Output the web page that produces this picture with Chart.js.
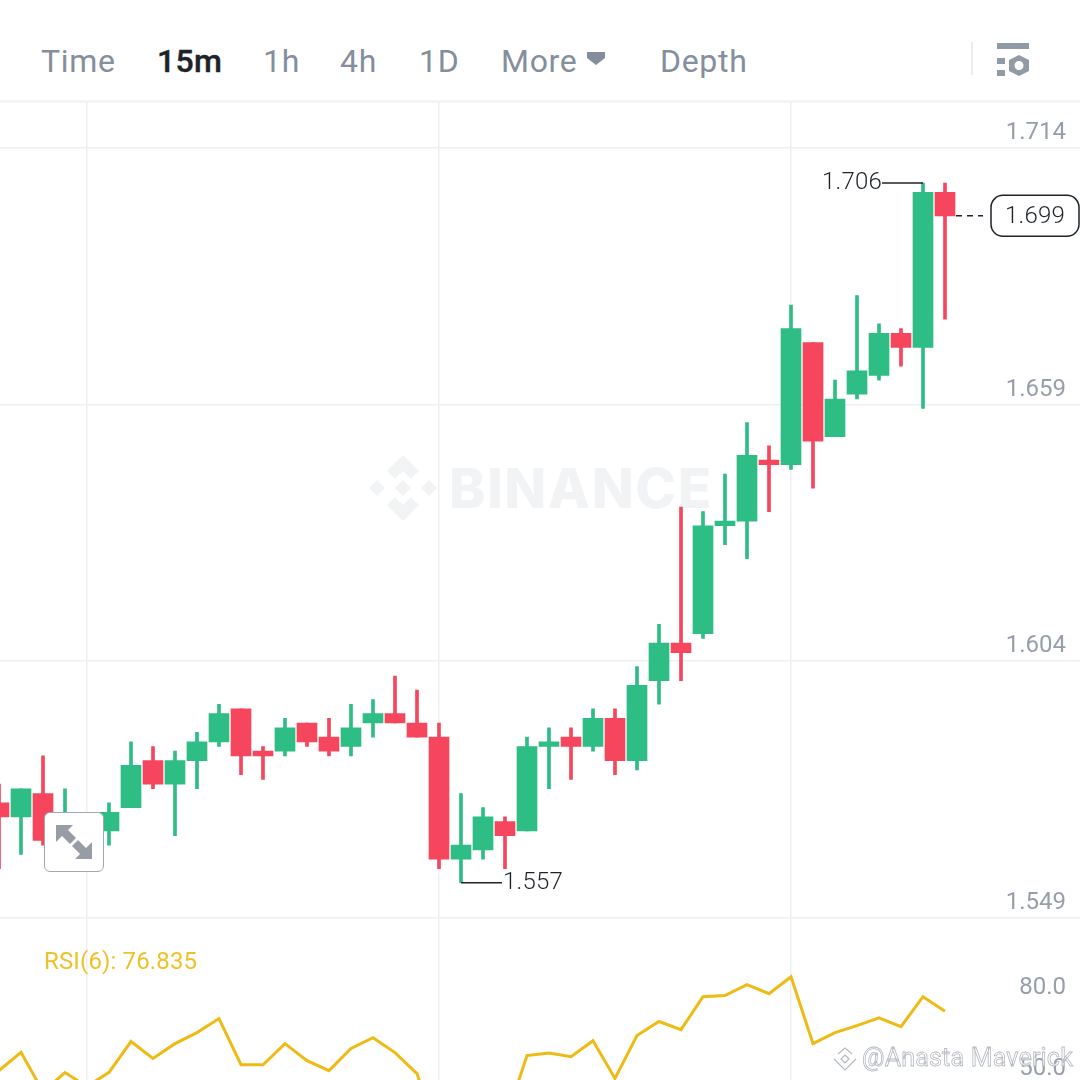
<!DOCTYPE html>
<html>
<head>
<meta charset="utf-8">
<title>15m chart</title>
<script src="https://cdn.jsdelivr.net/npm/chart.js@4"></script>
<style>
  html, body { margin: 0; padding: 0; width: 1080px; height: 1080px; overflow: hidden; background: #fff; }
  body { position: relative; font-family: Roboto, sans-serif; }
  .abs { position: absolute; white-space: nowrap; }
  .tab { top: 43px; font-size: 32px; line-height: 37px; color: #848e9c; letter-spacing: 0.7px; }
  .tab.on { color: #1e2329; font-weight: 500; letter-spacing: 0.3px; -webkit-text-stroke: 0.4px #1e2329; }
  #header-line { left: 0; top: 100px; width: 1080px; height: 3px; background: #f5f5f5; }
  #mark-text { left: 449px; top: 457px; font: 800 55px/62px Inter, sans-serif; color: #f2f3f4; letter-spacing: 1.5px; }
  #chart { position: absolute; left: 0; top: 0; }
  #rsi-label { left: 44px; top: 947px; font-size: 24px; line-height: 29px; color: #efc128; letter-spacing: 0.15px; }
  #expand { left: 44px; top: 812px; width: 58px; height: 58px; background: #fff; border: 1.5px solid #a3a8b0; border-radius: 6px; }
  #credit { left: 862px; top: 1043px; font-size: 25px; line-height: 30px; color: rgba(255,255,255,0.7); -webkit-text-stroke: 0.8px #b4b8bf; letter-spacing: 0.2px; }
</style>
</head>
<body>
<div class="abs" id="header-line"></div>
<span class="abs tab" style="left:41px">Time</span>
<span class="abs tab on" style="left:157px">15m</span>
<span class="abs tab" style="left:263px">1h</span>
<span class="abs tab" style="left:340px">4h</span>
<span class="abs tab" style="left:419px">1D</span>
<span class="abs tab" style="left:501px">More</span>
<span class="abs tab" style="left:660px">Depth</span>
<svg class="abs" style="left:586px;top:51px" width="20" height="15"><polygon points="1,1 19,1 19,7 10,14 1,7" fill="#848e9c"/></svg>
<div class="abs" style="left:971px;top:42px;width:2px;height:33px;background:#eaecef"></div>
<svg class="abs" style="left:996px;top:43px" width="36" height="34">
  <rect x="1" y="0" width="32" height="6" fill="#929aa5"/>
  <rect x="1" y="15" width="8" height="6" fill="#929aa5"/>
  <rect x="1" y="27" width="8" height="6" fill="#929aa5"/>
  <path fill-rule="evenodd" fill="#929aa5" d="M23 12 L33 17 V28 L23 33 L13 28 V17 Z M23 18 a4.5 4.5 0 1 0 0.01 0 Z"/>
</svg>
<svg class="abs" style="left:369px;top:454px" width="68" height="68">
  <g fill="#f2f3f4">
    <polygon points="34,1 50,17 42,25 34,17 26,25 18,17"/>
    <polygon points="34,67 50,51 42,43 34,51 26,43 18,51"/>
    <polygon points="34,26 42,34 34,42 26,34"/>
    <polygon points="8,26 16,34 8,42 0,34"/>
    <polygon points="60,26 68,34 60,42 52,34"/>
  </g>
</svg>
<div class="abs" id="mark-text">BINANCE</div>
<canvas id="chart" width="1080" height="1090"></canvas>
<div class="abs" id="rsi-label">RSI(6): 76.835</div>
<div class="abs" id="expand">
  <svg width="58" height="58">
    <g fill="#979ca5">
      <polygon points="11,12 28,12 23,17 31,25 25,31 17,23 11,29"/>
      <polygon points="47,46 30,46 35,41 27,33 33,27 41,35 47,29"/>
    </g>
  </svg>
</div>
<svg class="abs" style="left:831px;top:1046px" width="28" height="26">
  <g fill="none" stroke="#b4b8bf" stroke-width="1.2">
    <polyline points="7,8 14,2 21,8"/>
    <polyline points="3,13 14,24 25,13"/>
    <polygon points="14,9 18,13 14,17 10,13"/>
  </g>
</svg>
<div class="abs" id="credit">@Anasta Maverick</div>

<script>
'use strict';

// 15m candles, oldest first. Two under the expand button are guessed.
const opens = [1.574, 1.571, 1.576, 1.566, 1.569, 1.568, 1.573, 1.583, 1.578, 1.583, 1.587,
  1.594, 1.585, 1.585, 1.591, 1.588, 1.586, 1.591, 1.593, 1.591, 1.588, 1.562, 1.564, 1.570,
  1.568, 1.586, 1.588, 1.586, 1.592, 1.583, 1.600, 1.608, 1.610, 1.633, 1.634, 1.647, 1.646,
  1.672, 1.652, 1.661, 1.665, 1.674, 1.671, 1.704];
const closes = [1.571, 1.577, 1.566, 1.571, 1.571, 1.572, 1.582, 1.578, 1.583, 1.587, 1.593,
  1.584, 1.584, 1.590, 1.587, 1.585, 1.590, 1.593, 1.591, 1.588, 1.562, 1.565, 1.571, 1.567,
  1.586, 1.587, 1.586, 1.592, 1.583, 1.599, 1.608, 1.606, 1.633, 1.634, 1.648, 1.646, 1.675,
  1.651, 1.660, 1.666, 1.674, 1.671, 1.704, 1.699];
const highs = [1.578, 1.577, 1.584, 1.577, 1.571, 1.574, 1.587, 1.586, 1.585, 1.589, 1.595,
  1.594, 1.586, 1.592, 1.591, 1.592, 1.595, 1.596, 1.601, 1.598, 1.591, 1.576, 1.573, 1.571,
  1.588, 1.590, 1.590, 1.594, 1.594, 1.603, 1.612, 1.637, 1.636, 1.644, 1.655, 1.650, 1.680,
  1.672, 1.664, 1.682, 1.676, 1.675, 1.706, 1.706];
const lows = [1.560, 1.563, 1.565, 1.564, 1.566, 1.565, 1.573, 1.577, 1.567, 1.577, 1.586,
  1.580, 1.579, 1.584, 1.586, 1.584, 1.584, 1.588, 1.591, 1.588, 1.560, 1.557, 1.562, 1.560,
  1.568, 1.577, 1.579, 1.585, 1.580, 1.581, 1.595, 1.600, 1.609, 1.629, 1.626, 1.636, 1.645,
  1.641, 1.652, 1.660, 1.664, 1.667, 1.658, 1.677];

// RSI(6); values below about 52 run off the bottom of the picture, so those are estimates.
const rsi = [54.8, 61.6, 47, 54.1, 48.9, 54.2, 65.6, 59.3, 64.8, 68.9, 74.1, 57.0, 57.0, 64.8,
  58.5, 54.8, 63.0, 67.0, 61.5, 53.7, 30, 31, 36, 35.9, 60.4, 61.3, 60.0, 65.9, 51.9, 67.8,
  73.0, 70.0, 82.2, 82.6, 86.7, 83.3, 89.6, 64.8, 68.9, 71.5, 74.4, 71.1, 82.2, 76.835];

const priceTicks = [1.71345, 1.65875, 1.60425, 1.54955];
const priceTickLabels = ['1.714', '1.659', '1.604', '1.549'];
const rsiTicks = [80, 50];
const rsiTickLabels = ['80.0', '50.0'];
const timeTicks = [4, 20, 36];

const GREEN = '#2ebd85';
const RED = '#f6465d';
const GRID = '#eef0f2';
const AXIS_TEXT = '#969eaa';

const indexes = opens.map((_, i) => i);
const candleColors = indexes.map(i => (closes[i] >= opens[i] ? GREEN : RED));

// high / low / last price callouts, placed from the scales
const calloutPlugin = {
  id: 'callouts',
  afterDatasetsDraw(chart) {
    const { ctx, scales: { x, y } } = chart;
    const hiIdx = highs.indexOf(Math.max(...highs));
    const loIdx = lows.indexOf(Math.min(...lows));
    const lastIdx = closes.length - 1;
    const last = closes[lastIdx];

    ctx.save();
    ctx.font = '300 24px Roboto';
    ctx.letterSpacing = '0.2px';
    ctx.textBaseline = 'middle';
    ctx.strokeStyle = '#1e2329';
    ctx.fillStyle = '#1e2329';
    ctx.lineWidth = 1.5;

    const hiX = x.getPixelForValue(hiIdx);
    const hiY = y.getPixelForValue(highs[hiIdx]);
    ctx.beginPath();
    ctx.moveTo(hiX, hiY);
    ctx.lineTo(hiX - 41, hiY);
    ctx.stroke();
    ctx.textAlign = 'right';
    ctx.fillText(highs[hiIdx].toFixed(3), hiX - 41, hiY);

    const loX = x.getPixelForValue(loIdx);
    const loY = y.getPixelForValue(lows[loIdx]);
    ctx.beginPath();
    ctx.moveTo(loX, loY);
    ctx.lineTo(loX + 41, loY);
    ctx.stroke();
    ctx.textAlign = 'left';
    ctx.fillText(lows[loIdx].toFixed(3), loX + 42, loY);

    const lastX = x.getPixelForValue(lastIdx);
    const lastY = y.getPixelForValue(last);
    ctx.setLineDash([6, 5]);
    ctx.beginPath();
    ctx.moveTo(lastX + 11, lastY);
    ctx.lineTo(983, lastY);
    ctx.stroke();
    ctx.setLineDash([]);

    ctx.beginPath();
    ctx.roundRect(991, lastY - 20.5, 88, 41, 12);
    ctx.fillStyle = '#fff';
    ctx.fill();
    ctx.stroke();
    ctx.fillStyle = '#1e2329';
    ctx.textAlign = 'center';
    ctx.fillText(last.toFixed(3), 1035, lastY + 1);
    ctx.restore();
  },
};

new Chart(document.getElementById('chart'), {
  data: {
    datasets: [
      {
        type: 'bar',
        label: 'Wick',
        data: indexes.map(i => ({ x: i, y: [lows[i], highs[i]] })),
        backgroundColor: candleColors,
        barThickness: 3,
        grouped: false,
        order: 3,
        yAxisID: 'y',
      },
      {
        type: 'bar',
        label: 'Body',
        data: indexes.map(i => ({ x: i, y: [opens[i], closes[i]] })),
        backgroundColor: candleColors,
        barThickness: 20,
        grouped: false,
        order: 2,
        yAxisID: 'y',
      },
      {
        type: 'line',
        label: 'RSI(6)',
        data: indexes.map(i => ({ x: i, y: rsi[i] })),
        borderColor: '#eeba14',
        borderWidth: 3,
        borderJoinStyle: 'miter',
        pointRadius: 0,
        tension: 0,
        order: 1,
        yAxisID: 'yRsi',
      },
    ],
  },
  options: {
    responsive: false,
    animation: false,
    devicePixelRatio: 1,
    layout: { autoPadding: false, padding: { top: 102 } },
    plugins: { legend: { display: false }, tooltip: { enabled: false } },
    scales: {
      x: {
        type: 'linear',
        offset: false,
        min: 1 / 22,
        max: 1081 / 22,
        afterBuildTicks: s => { s.ticks = timeTicks.map(value => ({ value })); },
        afterFit: s => { s.height = 0; },
        ticks: { display: false },
        grid: { color: GRID, lineWidth: 1.5, drawTicks: false, offset: false },
        border: { display: false },
      },
      y: {
        position: 'right',
        stack: 'panes',
        stackWeight: 816,
        min: 1.54955,
        max: 1.72324,
        afterBuildTicks: s => { s.ticks = priceTicks.map(value => ({ value })); },
        afterFit: s => { s.width = 0; },
        ticks: {
          mirror: true,
          padding: -14,
          labelOffset: -14.5,
          color: AXIS_TEXT,
          font: { family: 'Roboto', size: 24 },
          callback: (value, i) => priceTickLabels[i],
        },
        grid: { color: GRID, lineWidth: 1.5, drawTicks: false },
        border: { display: false },
      },
      yRsi: {
        position: 'right',
        stack: 'panes',
        stackWeight: 172,
        min: 47.78,
        max: 111.48,
        afterBuildTicks: s => { s.ticks = rsiTicks.map(value => ({ value })); },
        afterFit: s => { s.width = 0; },
        ticks: {
          mirror: true,
          padding: -14,
          labelOffset: -14.5,
          color: AXIS_TEXT,
          font: { family: 'Roboto', size: 24 },
          callback: (value, i) => rsiTickLabels[i],
        },
        grid: { display: false },
        border: { display: false },
      },
    },
  },
  plugins: [calloutPlugin],
});
</script>
</body>
</html>
